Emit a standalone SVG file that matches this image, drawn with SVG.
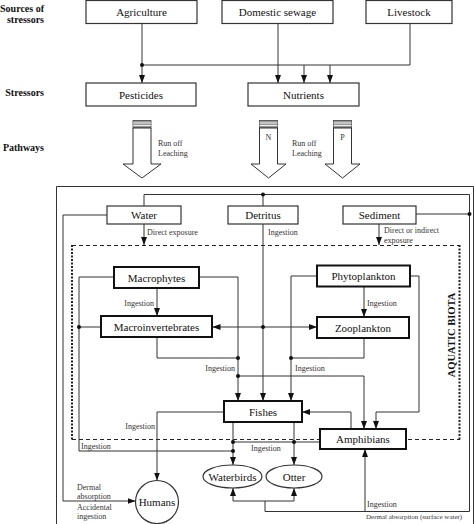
<svg xmlns="http://www.w3.org/2000/svg" width="474" height="524" viewBox="0 0 474 524">
<defs>
<marker id="ah" viewBox="0 0 8 6" refX="8" refY="3" markerWidth="8" markerHeight="6" orient="auto" markerUnits="userSpaceOnUse"><path d="M0,0 L8,3 L0,6 z" fill="#111"/></marker>
<style>
.bg{fill:#fff}
.box{fill:#fff;stroke:#333;stroke-width:1.2}
.tbox{fill:#fff;stroke:#111;stroke-width:2}
.ln{fill:none;stroke:#333;stroke-width:1}
.ar{fill:none;stroke:#333;stroke-width:1;marker-end:url(#ah)}
.dot{fill:#111}
.t{font-family:"Liberation Serif","Times New Roman",serif;font-size:11px;fill:#111;text-anchor:middle}
.s{font-family:"Liberation Serif","Times New Roman",serif;font-size:8px;fill:#333}
.h{font-family:"Liberation Serif","Times New Roman",serif;font-size:10px;font-weight:bold;fill:#111;text-anchor:end}
.blk{fill:#fff;stroke:#333;stroke-width:1}
.cap{fill:#999;stroke:#444;stroke-width:0.8}
.dash{fill:none;stroke:#222;stroke-width:1;stroke-dasharray:4,3}
.dot2{fill:none;stroke:#222;stroke-width:2;stroke-dasharray:2,1.5}
</style>
</defs>
<rect class="bg" x="0" y="0" width="474" height="524"/>

<g id="row-labels">
<text class="h" x="44" y="12">Sources of</text>
<text class="h" x="44" y="23">stressors</text>
<text class="h" x="44" y="96">Stressors</text>
<text class="h" x="44" y="151">Pathways</text>
</g>

<g id="frame">
<path class="ln" d="M56.5,526 V186.5 H473.5 V526"/>
<path class="dash" d="M72,245.5 H460 M72,439.5 H460"/>
<path class="dot2" d="M72,245 V440 M459.5,245 V440"/>
<text font-family="Liberation Serif,serif" font-size="10.5" font-weight="bold" fill="#111" text-anchor="middle" transform="translate(455,335) rotate(-90)">AQUATIC BIOTA</text>
</g>

<g id="connectors">
<path class="ar" d="M142,23 V83"/>
<path class="ln" d="M142,65 H410 V23"/>
<path class="ar" d="M278,23 V83"/>
<path class="ar" d="M304,65 V83"/>
<path class="ar" d="M330,65 V83"/>
<circle class="dot" cx="142" cy="65" r="2"/>

<path class="ln" d="M144,206 V194.5 H469.5 V511.5 H265 V501"/>
<path class="ln" d="M263,194.5 V206"/>
<circle class="dot" cx="263" cy="194.5" r="2"/>
<path class="ln" d="M416,214 H469.5"/>
<circle class="dot" cx="469.5" cy="214" r="2"/>
<path class="ln" d="M233,501 H294"/>
<path class="ar" d="M233,501 V488"/>
<path class="ar" d="M294,501 V488"/>
<path class="ar" d="M365,511.5 V449"/>
<path class="ar" d="M107,215 H63 V501 H135.5"/>
<path class="ar" d="M144,224 V245"/>
<path class="ar" d="M379,224 V245"/>
<path class="ar" d="M263,224 V401"/>

<path class="ar" d="M157,288 V316"/>
<path class="ln" d="M114,277 H79 V451 H233"/>
<path class="ln" d="M101,327 H79"/>
<circle class="dot" cx="79" cy="327" r="2"/>
<path class="ar" d="M199,277 H238 V401"/>
<path class="ln" d="M157,337 V358 H238"/>
<circle class="dot" cx="238" cy="358" r="2"/>
<path class="ar" d="M263,327 H212.5"/>
<path class="ar" d="M263,327 H317"/>
<circle class="dot" cx="263" cy="327" r="2"/>
<path class="ar" d="M238,376 H364 V429"/>
<circle class="dot" cx="238" cy="376" r="2"/>
<path class="ar" d="M317,276 H291 V401"/>
<path class="ln" d="M364,338 V358 H291"/>
<circle class="dot" cx="291" cy="358" r="2"/>
<path class="ar" d="M364,286 V317"/>
<path class="ar" d="M410,276 H419 V412 H376 V429"/>
<path class="ar" d="M351,429 V412 H302"/>
<path class="ar" d="M224,412 H157 V480.5"/>
<path class="ar" d="M233,422 V465"/>
<path class="ar" d="M294,422 V465"/>
<path class="ln" d="M320,442 H233"/>
<circle class="dot" cx="233" cy="442" r="2"/>
<circle class="dot" cx="294" cy="442" r="2"/>
<circle class="dot" cx="233" cy="451" r="2"/>
</g>

<g id="connector-labels">
<text class="s" x="158" y="146">Run off</text>
<text class="s" x="158" y="156">Leaching</text>
<text class="s" x="292" y="146">Run off</text>
<text class="s" x="292" y="156">Leaching</text>
<text class="s" x="147" y="235">Direct exposure</text>
<text class="s" x="268" y="235">Ingestion</text>
<text class="s" x="384" y="233">Direct or indirect</text>
<text class="s" x="384" y="243">exposure</text>
<text class="s" x="154" y="306" text-anchor="end">Ingestion</text>
<text class="s" x="367" y="306">Ingestion</text>
<text class="s" x="235" y="371" text-anchor="end">Ingestion</text>
<text class="s" x="295" y="371">Ingestion</text>
<text class="s" x="155" y="429" text-anchor="end">Ingestion</text>
<text class="s" x="81" y="449">Ingestion</text>
<text class="s" x="251" y="451">Ingestion</text>
<text class="s" x="77" y="490">Dermal</text>
<text class="s" x="77" y="499">absorption</text>
<text class="s" x="77" y="510">Accidental</text>
<text class="s" x="77" y="519">ingestion</text>
<text class="s" x="367" y="507">Ingestion</text>
<text class="s" x="366" y="519" style="font-size:7px">Dermal absorption (surface water)</text>
</g>

<g id="agriculture"><rect class="box" x="86" y="0.5" width="111" height="23"/><text class="t" x="141.5" y="16">Agriculture</text></g>
<g id="domestic-sewage"><rect class="box" x="222" y="0.5" width="111" height="23"/><text class="t" x="277.5" y="16">Domestic sewage</text></g>
<g id="livestock"><rect class="box" x="366" y="0.5" width="86" height="23"/><text class="t" x="409" y="16">Livestock</text></g>
<g id="pesticides"><rect class="box" x="86" y="83" width="110" height="23"/><text class="t" x="141" y="98.5">Pesticides</text></g>
<g id="nutrients"><rect class="box" x="248" y="83" width="111" height="23"/><text class="t" x="303.5" y="98.5">Nutrients</text></g>

<g id="pathway-pesticides">
<rect class="cap" x="133" y="120.5" width="18" height="7.5"/>
<path d="M133,123 H151 M133,125.5 H151" stroke="#eee" stroke-width="1"/>
<path class="blk" d="M133,128 V164 H123 L142,178 L161,164 H151 V128 Z"/>
</g>
<g id="pathway-n">
<rect class="cap" x="259.5" y="120.5" width="18" height="7.5"/>
<path d="M259.5,123 H277.5 M259.5,125.5 H277.5" stroke="#eee" stroke-width="1"/>
<path class="blk" d="M259.5,128 V164 H251 L268.5,178 L286,164 H277.5 V128 Z"/>
<text class="s" x="268.5" y="140" text-anchor="middle">N</text>
</g>
<g id="pathway-p">
<rect class="cap" x="333.5" y="120.5" width="18" height="7.5"/>
<path d="M333.5,123 H351.5 M333.5,125.5 H351.5" stroke="#eee" stroke-width="1"/>
<path class="blk" d="M333.5,128 V164 H325 L342.5,178 L360,164 H351.5 V128 Z"/>
<text class="s" x="342.5" y="140" text-anchor="middle">P</text>
</g>

<g id="water"><rect class="box" x="107" y="206" width="74" height="18"/><text class="t" x="144" y="219">Water</text></g>
<g id="detritus"><rect class="box" x="228" y="206" width="70" height="18"/><text class="t" x="263" y="219">Detritus</text></g>
<g id="sediment"><rect class="box" x="343" y="206" width="73" height="18"/><text class="t" x="379.5" y="219">Sediment</text></g>

<g id="macrophytes"><rect class="tbox" x="114" y="267" width="85" height="21"/><text class="t" x="156.5" y="281.5">Macrophytes</text></g>
<g id="macroinvertebrates"><rect class="tbox" x="101" y="316" width="111" height="21"/><text class="t" x="156.5" y="330.5">Macroinvertebrates</text></g>
<g id="phytoplankton"><rect class="tbox" x="317" y="265.5" width="93" height="21"/><text class="t" x="363.5" y="280">Phytoplankton</text></g>
<g id="zooplankton"><rect class="tbox" x="317" y="317" width="92" height="21"/><text class="t" x="363" y="331.5">Zooplankton</text></g>
<g id="fishes"><rect class="tbox" x="224" y="401" width="78" height="21"/><text class="t" x="263" y="415.5">Fishes</text></g>
<g id="amphibians"><rect class="tbox" x="320" y="429" width="86" height="20"/><text class="t" x="363" y="443">Amphibians</text></g>
<g id="waterbirds"><ellipse class="box" cx="232.5" cy="476.5" rx="29.5" ry="11.5"/><text class="t" x="232.5" y="480.5">Waterbirds</text></g>
<g id="otter"><ellipse class="box" cx="294" cy="476.5" rx="28" ry="11.5"/><text class="t" x="294" y="480.5">Otter</text></g>
<g id="humans"><circle class="box" cx="157" cy="502" r="21.5"/><text class="t" x="157" y="506">Humans</text></g>
</svg>
